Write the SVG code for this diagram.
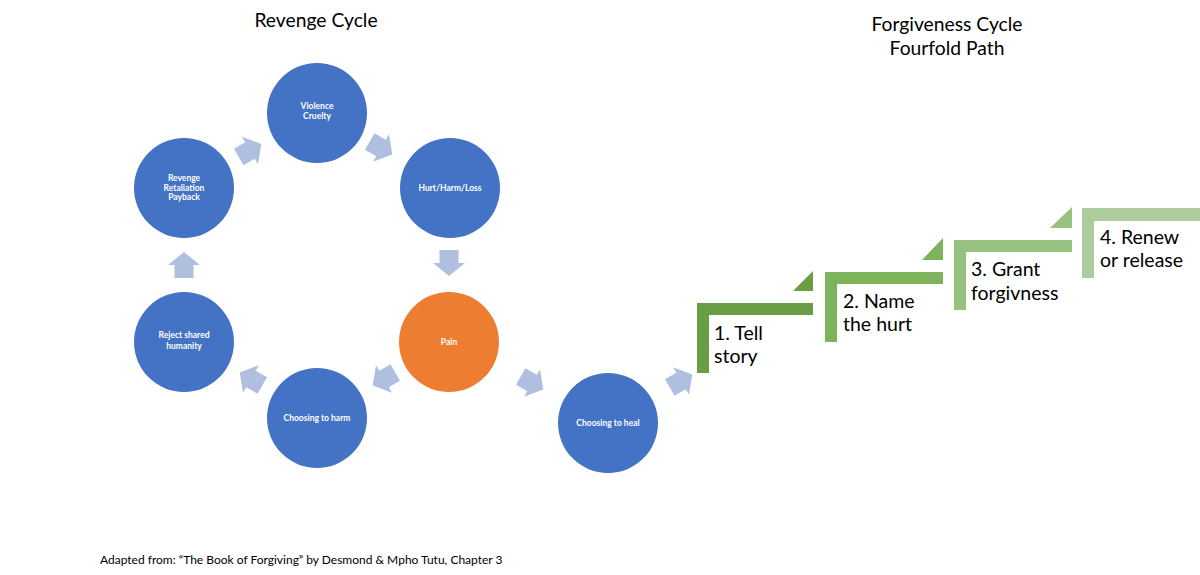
<svg xmlns="http://www.w3.org/2000/svg" width="1200" height="575" viewBox="0 0 1200 575">
<style>
.title{font-family:Lato,"Liberation Sans",sans-serif;font-size:19.3px;fill:#000;text-anchor:middle}
.lbl{font-family:Lato,"Liberation Sans",sans-serif;font-size:8.5px;font-weight:bold;fill:#fff;text-anchor:middle}
.step{font-family:Lato,"Liberation Sans",sans-serif;font-size:19.5px;fill:#000}
.foot{font-family:Lato,"Liberation Sans",sans-serif;font-size:12px;fill:#000}
.blue{fill:#4472C4}
.orange{fill:#ED7D31}
.arr{fill:#B0BFE0}
</style>
<defs>
<path id="ar" d="M-13,-9.5 L0,-9.5 L0,-16 L13,0 L0,16 L0,9.5 L-13,9.5 Z"/>
</defs>
<rect width="1200" height="575" fill="#fff"/>
<text class="title" x="316" y="27">Revenge Cycle</text>
<text class="title" x="947" y="31">Forgiveness Cycle</text>
<text class="title" x="947" y="55">Fourfold Path</text>

<g id="connectors" class="arr">
<use href="#ar" transform="translate(250,150.5) rotate(-30)"/>
<use href="#ar" transform="translate(381,148) rotate(30)"/>
<use href="#ar" transform="translate(449,263) rotate(90)"/>
<use href="#ar" transform="translate(384,379) rotate(150)"/>
<use href="#ar" transform="translate(251,379) rotate(210)"/>
<use href="#ar" transform="translate(184,265) rotate(-90)"/>
<use href="#ar" transform="translate(532,383) rotate(30)"/>
<use href="#ar" transform="translate(681,381) rotate(-30)"/>
</g>

<g id="violence"><circle class="blue" cx="317" cy="113" r="50"/><text class="lbl" x="317" y="109">Violence</text><text class="lbl" x="317" y="119">Cruelty</text></g>
<g id="hurt"><circle class="blue" cx="450" cy="188" r="50"/><text class="lbl" x="450" y="191">Hurt/Harm/Loss</text></g>
<g id="pain"><circle class="orange" cx="449" cy="342" r="50"/><text class="lbl" x="449" y="345">Pain</text></g>
<g id="harm"><circle class="blue" cx="317" cy="418" r="50"/><text class="lbl" x="317" y="421">Choosing to harm</text></g>
<g id="reject"><circle class="blue" cx="184" cy="342" r="50"/><text class="lbl" x="184" y="338">Reject shared</text><text class="lbl" x="184" y="349">humanity</text></g>
<g id="revenge"><circle class="blue" cx="184" cy="188" r="50"/><text class="lbl" x="184" y="181">Revenge</text><text class="lbl" x="184" y="190.5">Retaliation</text><text class="lbl" x="184" y="200">Payback</text></g>
<g id="heal"><circle class="blue" cx="608" cy="423" r="50"/><text class="lbl" x="608" y="426">Choosing to heal</text></g>

<g id="step1" fill="#6A9D44">
<path d="M697,303 H813 V315 H709 V373 H697 Z"/>
<path d="M793,291 H813 V271 Z"/>
<text class="step" x="714" y="340">1. Tell</text><text class="step" x="714" y="363">story</text>
</g>
<g id="step2" fill="#7DB35B">
<path d="M825,272 H943 V284 H837 V342 H825 Z"/>
<path d="M922,260 H943 V238 Z"/>
<text class="step" x="843" y="308">2. Name</text><text class="step" x="843" y="331">the hurt</text>
</g>
<g id="step3" fill="#97C17F">
<path d="M954,240 H1072 V252 H966 V310 H954 Z"/>
<path d="M1050,228 H1072 V207 Z"/>
<text class="step" x="971" y="276">3. Grant</text><text class="step" x="971" y="300">forgivness</text>
</g>
<g id="step4" fill="#AECB9C">
<path d="M1082,208 H1200 V221 H1094 V278 H1082 Z"/>
<text class="step" x="1100" y="244">4. Renew</text><text class="step" x="1100" y="267">or release</text>
</g>

<text class="foot" x="100" y="564">Adapted from: “The Book of Forgiving” by Desmond &amp; Mpho Tutu, Chapter 3</text>
</svg>
